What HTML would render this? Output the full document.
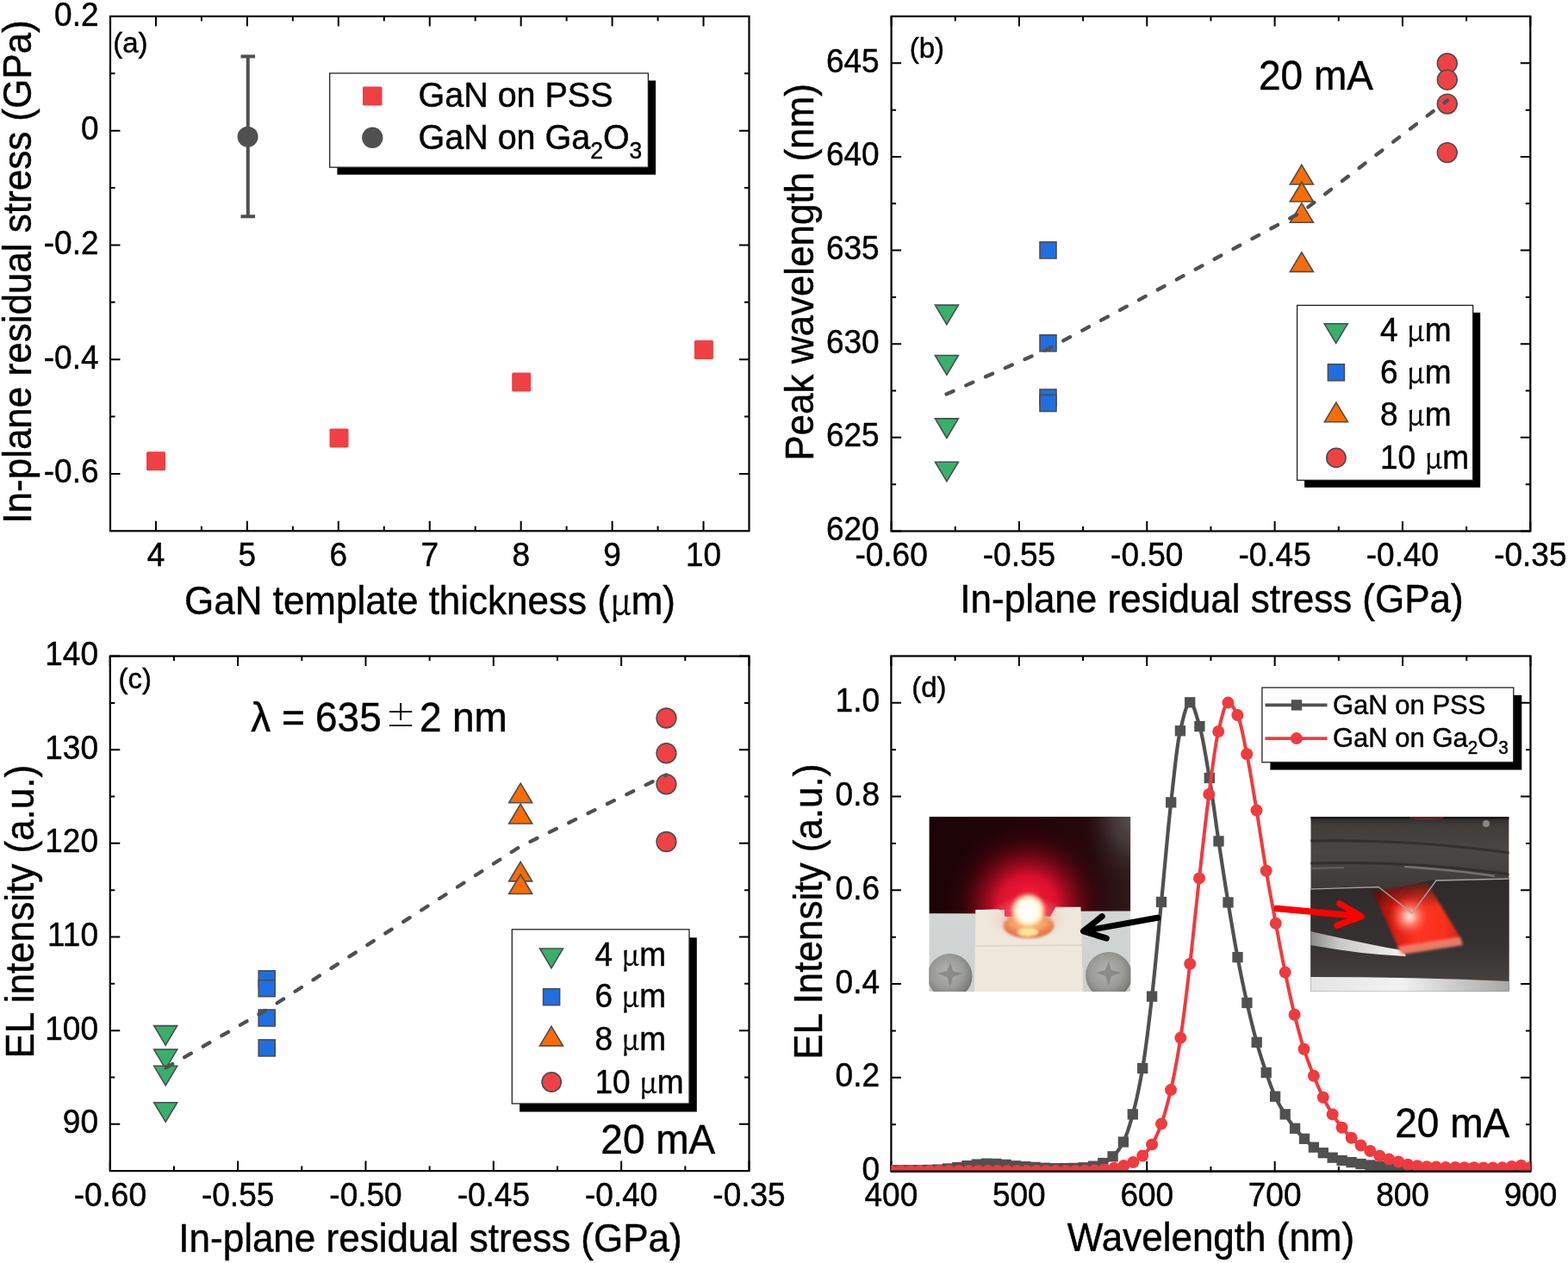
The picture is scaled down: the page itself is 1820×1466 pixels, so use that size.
<!DOCTYPE html>
<html><head><meta charset="utf-8"><title>Figure</title>
<style>
html,body{margin:0;padding:0;background:#fff;}
svg{display:block;}
svg text{font-family:'Liberation Sans', Arial, sans-serif;fill:#000;stroke:#000;stroke-width:0.45px;}
</style></head>
<body>
<svg width="1820" height="1466" viewBox="0 0 1820 1466">
<rect width="1820" height="1466" fill="#fff"/>
<path d="M180.96 616.3V604.8M180.96 19V30.5M286.89 616.3V604.8M286.89 19V30.5M392.82 616.3V604.8M392.82 19V30.5M498.75 616.3V604.8M498.75 19V30.5M604.68 616.3V604.8M604.68 19V30.5M710.61 616.3V604.8M710.61 19V30.5M816.54 616.3V604.8M816.54 19V30.5M233.93 616.3V610.8M233.93 19V24.5M339.86 616.3V610.8M339.86 19V24.5M445.79 616.3V610.8M445.79 19V24.5M551.71 616.3V610.8M551.71 19V24.5M657.64 616.3V610.8M657.64 19V24.5M763.57 616.3V610.8M763.57 19V24.5M128 19H139.5M869.5 19H858M128 151.73H139.5M869.5 151.73H858M128 284.47H139.5M869.5 284.47H858M128 417.2H139.5M869.5 417.2H858M128 549.93H139.5M869.5 549.93H858M128 85.37H133.5M869.5 85.37H864M128 218.1H133.5M869.5 218.1H864M128 350.83H133.5M869.5 350.83H864M128 483.57H133.5M869.5 483.57H864" stroke="#000" stroke-width="2.0" fill="none"/>
<rect x="128" y="19" width="741.5" height="597.3" fill="none" stroke="#000" stroke-width="2.2"/>
<text transform="translate(114.5 29.5) scale(1 1.03)" font-size="37" text-anchor="end">0.2</text>
<text transform="translate(114.5 162.23) scale(1 1.03)" font-size="37" text-anchor="end">0</text>
<text transform="translate(114.5 294.97) scale(1 1.03)" font-size="37" text-anchor="end">-0.2</text>
<text transform="translate(114.5 427.7) scale(1 1.03)" font-size="37" text-anchor="end">-0.4</text>
<text transform="translate(114.5 560.43) scale(1 1.03)" font-size="37" text-anchor="end">-0.6</text>
<text transform="translate(180.96 657.3) scale(1 1.03)" font-size="37" text-anchor="middle">4</text>
<text transform="translate(286.89 657.3) scale(1 1.03)" font-size="37" text-anchor="middle">5</text>
<text transform="translate(392.82 657.3) scale(1 1.03)" font-size="37" text-anchor="middle">6</text>
<text transform="translate(498.75 657.3) scale(1 1.03)" font-size="37" text-anchor="middle">7</text>
<text transform="translate(604.68 657.3) scale(1 1.03)" font-size="37" text-anchor="middle">8</text>
<text transform="translate(710.61 657.3) scale(1 1.03)" font-size="37" text-anchor="middle">9</text>
<text transform="translate(816.54 657.3) scale(1 1.03)" font-size="37" text-anchor="middle">10</text>
<text transform="translate(499 713) scale(1 1.03)" font-size="44" text-anchor="middle">GaN template thickness (<tspan font-family="'Noto Serif CJK SC', 'Liberation Serif', serif" font-size="0.9em">&#956;</tspan>m)</text>
<text transform="translate(36 315.5) rotate(-90) scale(1 1.03)" font-size="44" text-anchor="middle">In-plane residual stress (GPa)</text>
<text transform="translate(131.2 60.6) scale(1 1.03)" font-size="33" text-anchor="start">(a)</text>
<path d="M287.8 65.5V251.3M279.5 65.5H296.1M279.5 251.3H296.1" stroke="#505050" stroke-width="4" fill="none"/>
<circle cx="287.6" cy="158.7" r="12" fill="#505050"/>
<rect x="170" y="524.3" width="22" height="22" rx="1.6" fill="#ef4043"/>
<rect x="382.5" y="497.6" width="22" height="22" rx="1.6" fill="#ef4043"/>
<rect x="594.2" y="432.5" width="22" height="22" rx="1.6" fill="#ef4043"/>
<rect x="805.9" y="394.9" width="22" height="22" rx="1.6" fill="#ef4043"/>
<rect x="391.4" y="93.5" width="369.7" height="109.2" fill="#000"/>
<rect x="382.7" y="85" width="369.7" height="109.2" fill="#fff" stroke="#222" stroke-width="1.3"/>
<rect x="421" y="100.5" width="22.5" height="22" rx="1.6" fill="#ef4043"/>
<circle cx="432.3" cy="159.8" r="12.2" fill="#505050"/>
<text transform="translate(485.5 123.8) scale(1 1.03)" font-size="39.5" text-anchor="start">GaN on PSS</text>
<text transform="translate(485.5 172.5) scale(1 1.03)" font-size="39.5" text-anchor="start">GaN on Ga<tspan font-size="26.4" dy="10.7">2</tspan><tspan dy="-10.7">O</tspan><tspan font-size="26.4" dy="10.7">3</tspan></text>
<path d="M1034.6 616.5V605M1034.6 19V30.5M1182.94 616.5V605M1182.94 19V30.5M1331.28 616.5V605M1331.28 19V30.5M1479.62 616.5V605M1479.62 19V30.5M1627.96 616.5V605M1627.96 19V30.5M1776.3 616.5V605M1776.3 19V30.5M1108.77 616.5V611M1108.77 19V24.5M1257.11 616.5V611M1257.11 19V24.5M1405.45 616.5V611M1405.45 19V24.5M1553.79 616.5V611M1553.79 19V24.5M1702.13 616.5V611M1702.13 19V24.5M1034.6 616.5H1046.1M1776.3 616.5H1764.8M1034.6 507.86H1046.1M1776.3 507.86H1764.8M1034.6 399.23H1046.1M1776.3 399.23H1764.8M1034.6 290.59H1046.1M1776.3 290.59H1764.8M1034.6 181.95H1046.1M1776.3 181.95H1764.8M1034.6 73.32H1046.1M1776.3 73.32H1764.8M1034.6 562.18H1040.1M1776.3 562.18H1770.8M1034.6 453.55H1040.1M1776.3 453.55H1770.8M1034.6 344.91H1040.1M1776.3 344.91H1770.8M1034.6 236.27H1040.1M1776.3 236.27H1770.8M1034.6 127.64H1040.1M1776.3 127.64H1770.8" stroke="#000" stroke-width="2.0" fill="none"/>
<rect x="1034.6" y="19" width="741.7" height="597.5" fill="none" stroke="#000" stroke-width="2.2"/>
<text transform="translate(1020.6 627) scale(1 1.03)" font-size="37" text-anchor="end">620</text>
<text transform="translate(1020.6 518.36) scale(1 1.03)" font-size="37" text-anchor="end">625</text>
<text transform="translate(1020.6 409.73) scale(1 1.03)" font-size="37" text-anchor="end">630</text>
<text transform="translate(1020.6 301.09) scale(1 1.03)" font-size="37" text-anchor="end">635</text>
<text transform="translate(1020.6 192.45) scale(1 1.03)" font-size="37" text-anchor="end">640</text>
<text transform="translate(1020.6 83.82) scale(1 1.03)" font-size="37" text-anchor="end">645</text>
<text transform="translate(1034.6 657) scale(1 1.03)" font-size="37" text-anchor="middle">-0.60</text>
<text transform="translate(1182.94 657) scale(1 1.03)" font-size="37" text-anchor="middle">-0.55</text>
<text transform="translate(1331.28 657) scale(1 1.03)" font-size="37" text-anchor="middle">-0.50</text>
<text transform="translate(1479.62 657) scale(1 1.03)" font-size="37" text-anchor="middle">-0.45</text>
<text transform="translate(1627.96 657) scale(1 1.03)" font-size="37" text-anchor="middle">-0.40</text>
<text transform="translate(1776.3 657) scale(1 1.03)" font-size="37" text-anchor="middle">-0.35</text>
<text transform="translate(1406.5 710.5) scale(1 1.03)" font-size="44" text-anchor="middle">In-plane residual stress (GPa)</text>
<text transform="translate(943.7 316) rotate(-90) scale(1 1.03)" font-size="44" text-anchor="middle">Peak wavelength (nm)</text>
<text transform="translate(1055.7 66.5) scale(1 1.03)" font-size="33" text-anchor="start">(b)</text>
<text transform="translate(1461 104.3) scale(1 1.03)" font-size="46" text-anchor="start">20 mA</text>
<path d="M1085.4 354.1L1112.4 354.1L1098.9 376.7Z" fill="#38b06b" stroke="#4b4d4e" stroke-width="1.6" stroke-linejoin="miter"/>
<path d="M1085.4 412.5L1112.4 412.5L1098.9 435.1Z" fill="#38b06b" stroke="#4b4d4e" stroke-width="1.6" stroke-linejoin="miter"/>
<path d="M1085.4 485.9L1112.4 485.9L1098.9 508.5Z" fill="#38b06b" stroke="#4b4d4e" stroke-width="1.6" stroke-linejoin="miter"/>
<path d="M1085.4 536.2L1112.4 536.2L1098.9 558.8Z" fill="#38b06b" stroke="#4b4d4e" stroke-width="1.6" stroke-linejoin="miter"/>
<rect x="1207" y="280.9" width="19" height="19" fill="#1f6fe2" stroke="#4b4d4e" stroke-width="1.6"/>
<rect x="1207" y="388.8" width="19" height="19" fill="#1f6fe2" stroke="#4b4d4e" stroke-width="1.6"/>
<rect x="1207" y="452" width="19" height="19" fill="#1f6fe2" stroke="#4b4d4e" stroke-width="1.6"/>
<rect x="1207" y="458.5" width="19" height="19" fill="#1f6fe2" stroke="#4b4d4e" stroke-width="1.6"/>
<path d="M1510.9 191.4L1524.4 214L1497.4 214Z" fill="#fb6c00" stroke="#4b4d4e" stroke-width="1.6" stroke-linejoin="miter"/>
<path d="M1510.9 211.4L1524.4 234L1497.4 234Z" fill="#fb6c00" stroke="#4b4d4e" stroke-width="1.6" stroke-linejoin="miter"/>
<path d="M1510.9 235.7L1524.4 258.3L1497.4 258.3Z" fill="#fb6c00" stroke="#4b4d4e" stroke-width="1.6" stroke-linejoin="miter"/>
<path d="M1510.9 292.8L1524.4 315.4L1497.4 315.4Z" fill="#fb6c00" stroke="#4b4d4e" stroke-width="1.6" stroke-linejoin="miter"/>
<circle cx="1679.8" cy="73.5" r="11.4" fill="#f04244" stroke="#4b4d4e" stroke-width="1.6"/>
<circle cx="1679.8" cy="92.7" r="11.4" fill="#f04244" stroke="#4b4d4e" stroke-width="1.6"/>
<circle cx="1679.8" cy="120.6" r="11.4" fill="#f04244" stroke="#4b4d4e" stroke-width="1.6"/>
<circle cx="1679.8" cy="177.1" r="11.4" fill="#f04244" stroke="#4b4d4e" stroke-width="1.6"/>
<path d="M1098.5 457.5 L1216.5 405 L1511 246 L1680 116.5" fill="none" stroke="#505050" stroke-width="4.3" stroke-dasharray="8.8 16.1" stroke-linecap="round" stroke-linejoin="round"/>
<rect x="1514.1" y="362.8" width="204.1" height="203" fill="#000"/>
<rect x="1505.6" y="354.4" width="204.1" height="203" fill="#fff" stroke="#222" stroke-width="1.3"/>
<path d="M1537.2 375.8L1564.2 375.8L1550.7 398.4Z" fill="#38b06b" stroke="#4b4d4e" stroke-width="1.6" stroke-linejoin="miter"/>
<rect x="1541.4" y="422.8" width="19" height="19" fill="#1f6fe2" stroke="#4b4d4e" stroke-width="1.6"/>
<path d="M1550.9 467.1L1564.4 489.7L1537.4 489.7Z" fill="#fb6c00" stroke="#4b4d4e" stroke-width="1.6" stroke-linejoin="miter"/>
<circle cx="1550.9" cy="531.4" r="11.1" fill="#f04244" stroke="#4b4d4e" stroke-width="1.6"/>
<text transform="translate(1602 395.7) scale(1 1.03)" font-size="37" text-anchor="start">4 <tspan font-family="'Noto Serif CJK SC', 'Liberation Serif', serif" font-size="0.9em">&#956;</tspan>m</text>
<text transform="translate(1602 444.5) scale(1 1.03)" font-size="37" text-anchor="start">6 <tspan font-family="'Noto Serif CJK SC', 'Liberation Serif', serif" font-size="0.9em">&#956;</tspan>m</text>
<text transform="translate(1602 494) scale(1 1.03)" font-size="37" text-anchor="start">8 <tspan font-family="'Noto Serif CJK SC', 'Liberation Serif', serif" font-size="0.9em">&#956;</tspan>m</text>
<text transform="translate(1602 543.8) scale(1 1.03)" font-size="37" text-anchor="start">10 <tspan font-family="'Noto Serif CJK SC', 'Liberation Serif', serif" font-size="0.9em">&#956;</tspan>m</text>
<path d="M127.8 1359.1V1347.6M127.8 761.6V773.1M276.14 1359.1V1347.6M276.14 761.6V773.1M424.48 1359.1V1347.6M424.48 761.6V773.1M572.82 1359.1V1347.6M572.82 761.6V773.1M721.16 1359.1V1347.6M721.16 761.6V773.1M869.5 1359.1V1347.6M869.5 761.6V773.1M201.97 1359.1V1353.6M201.97 761.6V767.1M350.31 1359.1V1353.6M350.31 761.6V767.1M498.65 1359.1V1353.6M498.65 761.6V767.1M646.99 1359.1V1353.6M646.99 761.6V767.1M795.33 1359.1V1353.6M795.33 761.6V767.1M127.8 1304.78H139.3M869.5 1304.78H858M127.8 1196.15H139.3M869.5 1196.15H858M127.8 1087.51H139.3M869.5 1087.51H858M127.8 978.87H139.3M869.5 978.87H858M127.8 870.24H139.3M869.5 870.24H858M127.8 761.6H139.3M869.5 761.6H858M127.8 1250.46H133.3M869.5 1250.46H864M127.8 1141.83H133.3M869.5 1141.83H864M127.8 1033.19H133.3M869.5 1033.19H864M127.8 924.55H133.3M869.5 924.55H864M127.8 815.92H133.3M869.5 815.92H864" stroke="#000" stroke-width="2.0" fill="none"/>
<rect x="127.8" y="761.6" width="741.7" height="597.5" fill="none" stroke="#000" stroke-width="2.2"/>
<text transform="translate(114 1315.28) scale(1 1.03)" font-size="37" text-anchor="end">90</text>
<text transform="translate(114 1206.65) scale(1 1.03)" font-size="37" text-anchor="end">100</text>
<text transform="translate(114 1098.01) scale(1 1.03)" font-size="37" text-anchor="end">110</text>
<text transform="translate(114 989.37) scale(1 1.03)" font-size="37" text-anchor="end">120</text>
<text transform="translate(114 880.74) scale(1 1.03)" font-size="37" text-anchor="end">130</text>
<text transform="translate(114 772.1) scale(1 1.03)" font-size="37" text-anchor="end">140</text>
<text transform="translate(127.8 1400) scale(1 1.03)" font-size="37" text-anchor="middle">-0.60</text>
<text transform="translate(276.14 1400) scale(1 1.03)" font-size="37" text-anchor="middle">-0.55</text>
<text transform="translate(424.48 1400) scale(1 1.03)" font-size="37" text-anchor="middle">-0.50</text>
<text transform="translate(572.82 1400) scale(1 1.03)" font-size="37" text-anchor="middle">-0.45</text>
<text transform="translate(721.16 1400) scale(1 1.03)" font-size="37" text-anchor="middle">-0.40</text>
<text transform="translate(869.5 1400) scale(1 1.03)" font-size="37" text-anchor="middle">-0.35</text>
<text transform="translate(499.5 1453.4) scale(1 1.03)" font-size="44" text-anchor="middle">In-plane residual stress (GPa)</text>
<text transform="translate(39 1058.2) rotate(-90) scale(1 1.03)" font-size="44" text-anchor="middle">EL intensity (a.u.)</text>
<text transform="translate(137.5 798.8) scale(1 1.03)" font-size="33" text-anchor="start">(c)</text>
<text transform="translate(697.3 1339.3) scale(1 1.03)" font-size="46" text-anchor="start">20 mA</text>
<text transform="translate(291.3 849.3) scale(1 1.03)" font-size="46" text-anchor="start">&#955;</text>
<text transform="translate(327 849.3) scale(1 1.03)" font-size="46" text-anchor="start">=</text>
<text transform="translate(366 849.3) scale(1 1.03)" font-size="46" text-anchor="start">635</text>
<text transform="translate(447.5 843) scale(1 1.0)" font-size="42" text-anchor="start" style="font-family:'DejaVu Sans';font-weight:200;stroke-width:0">&#177;</text>
<text transform="translate(487 849.3) scale(1 1.03)" font-size="46" text-anchor="start">2</text>
<text transform="translate(525 849.3) scale(1 1.03)" font-size="46" text-anchor="start">nm</text>
<path d="M178.7 1190.6L205.7 1190.6L192.2 1213.2Z" fill="#38b06b" stroke="#4b4d4e" stroke-width="1.6" stroke-linejoin="miter"/>
<path d="M178.7 1218.1L205.7 1218.1L192.2 1240.7Z" fill="#38b06b" stroke="#4b4d4e" stroke-width="1.6" stroke-linejoin="miter"/>
<path d="M178.7 1237.3L205.7 1237.3L192.2 1259.9Z" fill="#38b06b" stroke="#4b4d4e" stroke-width="1.6" stroke-linejoin="miter"/>
<path d="M178.7 1279.7L205.7 1279.7L192.2 1302.3Z" fill="#38b06b" stroke="#4b4d4e" stroke-width="1.6" stroke-linejoin="miter"/>
<rect x="300.2" y="1126.8" width="19" height="19" fill="#1f6fe2" stroke="#4b4d4e" stroke-width="1.6"/>
<rect x="300.2" y="1137.7" width="19" height="19" fill="#1f6fe2" stroke="#4b4d4e" stroke-width="1.6"/>
<rect x="300.2" y="1172" width="19" height="19" fill="#1f6fe2" stroke="#4b4d4e" stroke-width="1.6"/>
<rect x="300.2" y="1206.9" width="19" height="19" fill="#1f6fe2" stroke="#4b4d4e" stroke-width="1.6"/>
<path d="M604.2 909.2L617.7 931.8L590.7 931.8Z" fill="#fb6c00" stroke="#4b4d4e" stroke-width="1.6" stroke-linejoin="miter"/>
<path d="M604.2 933.4L617.7 956L590.7 956Z" fill="#fb6c00" stroke="#4b4d4e" stroke-width="1.6" stroke-linejoin="miter"/>
<path d="M604.2 1000.3L617.7 1022.9L590.7 1022.9Z" fill="#fb6c00" stroke="#4b4d4e" stroke-width="1.6" stroke-linejoin="miter"/>
<path d="M604.2 1014.9L617.7 1037.5L590.7 1037.5Z" fill="#fb6c00" stroke="#4b4d4e" stroke-width="1.6" stroke-linejoin="miter"/>
<circle cx="773.4" cy="833.5" r="11.4" fill="#f04244" stroke="#4b4d4e" stroke-width="1.6"/>
<circle cx="773.4" cy="874.3" r="11.4" fill="#f04244" stroke="#4b4d4e" stroke-width="1.6"/>
<circle cx="773.4" cy="910.3" r="11.4" fill="#f04244" stroke="#4b4d4e" stroke-width="1.6"/>
<circle cx="773.4" cy="977" r="11.4" fill="#f04244" stroke="#4b4d4e" stroke-width="1.6"/>
<path d="M192.6 1239.5 L309.7 1172 L604 982.5 L773.4 899.5" fill="none" stroke="#505050" stroke-width="4.3" stroke-dasharray="8.8 16.1" stroke-linecap="round" stroke-linejoin="round"/>
<rect x="603.1" y="1088.3" width="205.7" height="202.2" fill="#000"/>
<rect x="594.3" y="1078.8" width="205.7" height="202.2" fill="#fff" stroke="#222" stroke-width="1.3"/>
<path d="M626.5 1101L653.5 1101L640 1123.6Z" fill="#38b06b" stroke="#4b4d4e" stroke-width="1.6" stroke-linejoin="miter"/>
<rect x="630.6" y="1147.7" width="19" height="19" fill="#1f6fe2" stroke="#4b4d4e" stroke-width="1.6"/>
<path d="M640 1191.3L653.5 1213.9L626.5 1213.9Z" fill="#fb6c00" stroke="#4b4d4e" stroke-width="1.6" stroke-linejoin="miter"/>
<circle cx="640.2" cy="1256" r="11.1" fill="#f04244" stroke="#4b4d4e" stroke-width="1.6"/>
<text transform="translate(690.5 1121) scale(1 1.03)" font-size="37" text-anchor="start">4 <tspan font-family="'Noto Serif CJK SC', 'Liberation Serif', serif" font-size="0.9em">&#956;</tspan>m</text>
<text transform="translate(690.5 1168.8) scale(1 1.03)" font-size="37" text-anchor="start">6 <tspan font-family="'Noto Serif CJK SC', 'Liberation Serif', serif" font-size="0.9em">&#956;</tspan>m</text>
<text transform="translate(690.5 1218.6) scale(1 1.03)" font-size="37" text-anchor="start">8 <tspan font-family="'Noto Serif CJK SC', 'Liberation Serif', serif" font-size="0.9em">&#956;</tspan>m</text>
<text transform="translate(690.5 1268.7) scale(1 1.03)" font-size="37" text-anchor="start">10 <tspan font-family="'Noto Serif CJK SC', 'Liberation Serif', serif" font-size="0.9em">&#956;</tspan>m</text>
<path d="M1034.4 1359.6V1348.1M1034.4 761.5V773M1182.82 1359.6V1348.1M1182.82 761.5V773M1331.24 1359.6V1348.1M1331.24 761.5V773M1479.66 1359.6V1348.1M1479.66 761.5V773M1628.08 1359.6V1348.1M1628.08 761.5V773M1776.5 1359.6V1348.1M1776.5 761.5V773M1108.61 1359.6V1354.1M1108.61 761.5V767M1257.03 1359.6V1354.1M1257.03 761.5V767M1405.45 1359.6V1354.1M1405.45 761.5V767M1553.87 1359.6V1354.1M1553.87 761.5V767M1702.29 1359.6V1354.1M1702.29 761.5V767M1034.4 1359.6H1045.9M1776.5 1359.6H1765M1034.4 1250.85H1045.9M1776.5 1250.85H1765M1034.4 1142.11H1045.9M1776.5 1142.11H1765M1034.4 1033.36H1045.9M1776.5 1033.36H1765M1034.4 924.62H1045.9M1776.5 924.62H1765M1034.4 815.87H1045.9M1776.5 815.87H1765M1034.4 1305.23H1039.9M1776.5 1305.23H1771M1034.4 1196.48H1039.9M1776.5 1196.48H1771M1034.4 1087.74H1039.9M1776.5 1087.74H1771M1034.4 978.99H1039.9M1776.5 978.99H1771M1034.4 870.25H1039.9M1776.5 870.25H1771" stroke="#000" stroke-width="2.0" fill="none"/>
<rect x="1034.4" y="761.5" width="742.1" height="598.1" fill="none" stroke="#000" stroke-width="2.2"/>
<text transform="translate(1021 1370.1) scale(1 1.03)" font-size="37" text-anchor="end">0</text>
<text transform="translate(1021 1261.35) scale(1 1.03)" font-size="37" text-anchor="end">0.2</text>
<text transform="translate(1021 1152.61) scale(1 1.03)" font-size="37" text-anchor="end">0.4</text>
<text transform="translate(1021 1043.86) scale(1 1.03)" font-size="37" text-anchor="end">0.6</text>
<text transform="translate(1021 935.12) scale(1 1.03)" font-size="37" text-anchor="end">0.8</text>
<text transform="translate(1021 826.37) scale(1 1.03)" font-size="37" text-anchor="end">1.0</text>
<text transform="translate(1034.4 1399.5) scale(1 1.03)" font-size="37" text-anchor="middle">400</text>
<text transform="translate(1182.82 1399.5) scale(1 1.03)" font-size="37" text-anchor="middle">500</text>
<text transform="translate(1331.24 1399.5) scale(1 1.03)" font-size="37" text-anchor="middle">600</text>
<text transform="translate(1479.66 1399.5) scale(1 1.03)" font-size="37" text-anchor="middle">700</text>
<text transform="translate(1628.08 1399.5) scale(1 1.03)" font-size="37" text-anchor="middle">800</text>
<text transform="translate(1776.5 1399.5) scale(1 1.03)" font-size="37" text-anchor="middle">900</text>
<text transform="translate(1405.5 1452) scale(1 1.03)" font-size="44" text-anchor="middle">Wavelength (nm)</text>
<text transform="translate(953.9 1058.2) rotate(-90) scale(1 1.03)" font-size="44" text-anchor="middle">EL Intensity (a.u.)</text>
<text transform="translate(1058.2 808.8) scale(1 1.03)" font-size="33" text-anchor="start">(d)</text>
<text transform="translate(1619.2 1319.6) scale(1 1.03)" font-size="46" text-anchor="start">20 mA</text>
<defs>
<clipPath id="ph1c"><rect x="1078.3" y="947.8" width="234.1" height="203.2"/></clipPath>
<clipPath id="ph1top"><path d="M1078.3 947.8H1312.4V1057.5H1254.4V1053H1225V1064H1166V1056H1132.4V1060.2H1078.3Z"/></clipPath>
<clipPath id="ph2c"><rect x="1521.3" y="948" width="230.3" height="202.7"/></clipPath>
<linearGradient id="p1top" x1="0" y1="0" x2="1" y2="0">
<stop offset="0" stop-color="#1b0406"/><stop offset="0.5" stop-color="#230308"/><stop offset="0.8" stop-color="#26080b"/><stop offset="1" stop-color="#2e1a1b"/>
</linearGradient>
<radialGradient id="p1tr" cx="1316" cy="946" r="75" gradientUnits="userSpaceOnUse" gradientTransform="translate(1316 946) scale(0.8 1.2) translate(-1316 -946)">
<stop offset="0" stop-color="#5c5454" stop-opacity="1"/><stop offset="0.4" stop-color="#4a4040" stop-opacity="0.8"/><stop offset="1" stop-color="#2a1416" stop-opacity="0"/>
</radialGradient>
<linearGradient id="p1bot" x1="0" y1="0" x2="0" y2="1">
<stop offset="0" stop-color="#d8dcdc"/><stop offset="1" stop-color="#ccd0cf"/>
</linearGradient>
<radialGradient id="p1glow" cx="1193" cy="1052" r="100" gradientUnits="userSpaceOnUse">
<stop offset="0" stop-color="#ff2040" stop-opacity="1"/><stop offset="0.35" stop-color="#e41030" stop-opacity="0.95"/><stop offset="0.55" stop-color="#a00a1e" stop-opacity="0.7"/><stop offset="0.8" stop-color="#50040e" stop-opacity="0.3"/><stop offset="1" stop-color="#300008" stop-opacity="0"/>
</radialGradient>
<radialGradient id="p1core" cx="1193.5" cy="1057" r="22" gradientUnits="userSpaceOnUse">
<stop offset="0" stop-color="#ffffff"/><stop offset="0.55" stop-color="#fffdf0"/><stop offset="0.75" stop-color="#ffe8b0" stop-opacity="0.9"/><stop offset="1" stop-color="#ff8060" stop-opacity="0"/>
</radialGradient>
<radialGradient id="p1dome" cx="0.5" cy="0.35" r="0.6">
<stop offset="0" stop-color="#ffd890"/><stop offset="0.6" stop-color="#f59a60"/><stop offset="1" stop-color="#e26848"/>
</radialGradient>
<filter id="blur2" x="-20%" y="-20%" width="140%" height="140%"><feGaussianBlur stdDeviation="1.8"/></filter>
<radialGradient id="p1spill" cx="0.5" cy="0.5" r="0.5">
<stop offset="0" stop-color="#f06070" stop-opacity="0.55"/><stop offset="0.6" stop-color="#f6a0a0" stop-opacity="0.3"/><stop offset="1" stop-color="#f8c8b8" stop-opacity="0"/>
</radialGradient>
<radialGradient id="screw" cx="0.45" cy="0.42" r="0.6">
<stop offset="0" stop-color="#b4b5b1"/><stop offset="0.6" stop-color="#9a9b97"/><stop offset="0.9" stop-color="#7e7f7b"/><stop offset="1" stop-color="#6a6b68"/>
</radialGradient>
<linearGradient id="p2bg" x1="0" y1="0" x2="0" y2="1">
<stop offset="0" stop-color="#2c2828"/><stop offset="0.05" stop-color="#403c3a"/><stop offset="0.2" stop-color="#4a4644"/><stop offset="0.35" stop-color="#423e3c"/><stop offset="0.5" stop-color="#3a3634"/><stop offset="1" stop-color="#3a3634"/>
</linearGradient>
<linearGradient id="p2chip" x1="0" y1="0" x2="1" y2="0">
<stop offset="0" stop-color="#7a0a08"/><stop offset="0.25" stop-color="#d81c12"/><stop offset="0.5" stop-color="#ff3422"/><stop offset="0.8" stop-color="#f8301e"/><stop offset="1" stop-color="#d02a1c"/>
</linearGradient>
<linearGradient id="p2chipv" x1="0" y1="0" x2="0" y2="1">
<stop offset="0" stop-color="#2a1212" stop-opacity="0.75"/><stop offset="0.35" stop-color="#2a1212" stop-opacity="0"/><stop offset="1" stop-color="#2a1212" stop-opacity="0"/>
</linearGradient>
<radialGradient id="p2hot" cx="1636" cy="1064" r="24" gradientUnits="userSpaceOnUse">
<stop offset="0" stop-color="#fff4f0"/><stop offset="0.3" stop-color="#ff9a88"/><stop offset="1" stop-color="#ff3020" stop-opacity="0"/>
</radialGradient>
<linearGradient id="p2silver" x1="0" y1="0" x2="1" y2="0">
<stop offset="0" stop-color="#8a8a88"/><stop offset="0.3" stop-color="#c8c8c6"/><stop offset="0.7" stop-color="#e2e2e0"/><stop offset="1" stop-color="#f4f4f2"/>
</linearGradient>
<linearGradient id="p2white" x1="0" y1="0" x2="1" y2="0">
<stop offset="0" stop-color="#e4e4e4"/><stop offset="0.45" stop-color="#f2f2f2"/><stop offset="0.75" stop-color="#c8c8c8"/><stop offset="1" stop-color="#a8a8a8"/>
</linearGradient>
<linearGradient id="p2low" x1="0" y1="0" x2="0" y2="1">
<stop offset="0" stop-color="#2e2a29"/><stop offset="0.6" stop-color="#363231"/><stop offset="1" stop-color="#4a4644"/>
</linearGradient>
</defs>
<g clip-path="url(#ph1c)">
<rect x="1078.3" y="947.8" width="234.1" height="203.2" fill="url(#p1bot)"/>
<g clip-path="url(#ph1top)">
<rect x="1078.3" y="947.8" width="234.1" height="114" fill="url(#p1top)"/>
<rect x="1078.3" y="947.8" width="234.1" height="114" fill="url(#p1tr)"/>
<ellipse cx="1193" cy="1052" rx="100" ry="100" fill="url(#p1glow)"/>
</g>
<path d="M1131 1151 L1132.4 1056 L1159.4 1055.4 L1166 1064 L1219 1064 L1225.3 1052.8 L1254.4 1052.8 L1257 1151 Z" fill="#eee8dc"/>
<path d="M1131 1098 L1257 1097" stroke="#d9d5c8" stroke-width="1.5"/>
<path d="M1133 1057 L1159 1056.4 L1165 1064" stroke="#f6f3ea" stroke-width="1.5" fill="none"/>
<ellipse cx="1193" cy="1066" rx="48" ry="26" fill="url(#p1spill)"/>
<g filter="url(#blur2)">
<ellipse cx="1194" cy="1074.5" rx="29.5" ry="14.5" fill="url(#p1dome)"/>
<ellipse cx="1193" cy="1082" rx="12" ry="5" fill="#fff0a0" opacity="0.9"/>
<circle cx="1193.5" cy="1057" r="22" fill="url(#p1core)"/>
</g>
<circle cx="1102.5" cy="1133" r="26" fill="url(#screw)"/>
<circle cx="1287" cy="1132" r="27" fill="url(#screw)"/>
<path d="M1103 1117 L1106 1127 L1117 1130 L1106 1134 L1103 1145 L1099 1134 L1088 1130 L1099 1127 Z" fill="#7c7d79" opacity="0.7"/>
<path d="M1287 1116 L1290 1126 L1301 1129 L1290 1133 L1287 1144 L1283 1133 L1272 1129 L1283 1126 Z" fill="#7c7d79" opacity="0.7"/>
</g>
<g clip-path="url(#ph2c)">
<rect x="1521.3" y="948" width="230.3" height="202.7" fill="url(#p2bg)"/>
<rect x="1521.3" y="948" width="230.3" height="3" fill="#201c1c"/>
<ellipse cx="1656" cy="949" rx="20" ry="3" fill="#8a2a2a" opacity="0.6"/>
<circle cx="1725" cy="956" r="4" fill="#8a8684"/>
<path d="M1521 976 Q1640 974 1752 990" stroke="#2e2a29" stroke-width="3" fill="none" opacity="0.8"/>
<path d="M1521 1002 Q1640 999 1752 1015" stroke="#2e2a29" stroke-width="3" fill="none" opacity="0.8"/>
<path d="M1630 1006 Q1690 1010 1735 1017" stroke="#8a8684" stroke-width="2.5" fill="none" opacity="0.7"/>
<path d="M1521 1008 L1560 1007" stroke="#7a7674" stroke-width="2" opacity="0.6"/>
<path d="M1521 1031 L1600 1028 L1608 1034 L1660 1022 L1752 1019 L1752 1151 L1521 1151 Z" fill="url(#p2low)"/>
<path d="M1521 1081 Q1570 1092 1610 1100 L1628 1103 L1632 1110 Q1580 1108 1521 1097 Z" fill="url(#p2silver)"/>
<g filter="url(#blur2)">
<path d="M1593 1034 L1657 1026 L1696 1090 L1625 1104 Z" fill="url(#p2chip)"/>
<path d="M1593 1034 L1657 1026 L1696 1090 L1625 1104 Z" fill="url(#p2chipv)"/>
<path d="M1622 1099 L1695 1088 L1698 1097 L1627 1108 Z" fill="#f07e68" opacity="0.95"/>
<circle cx="1636" cy="1064" r="24" fill="url(#p2hot)"/>
</g>
<path d="M1521 1032 L1600 1029.5 L1639 1060 L1667 1022 L1752 1020" stroke="#aaa4a0" stroke-width="1.3" fill="none"/>
<path d="M1521 1134 Q1640 1134 1752 1139 L1752 1151 L1521 1151 Z" fill="url(#p2white)"/>
</g>

<defs><clipPath id="clipd"><rect x="1034.4" y="761.5" width="742.1" height="598.1"/></clipPath></defs>
<g clip-path="url(#clipd)">
<path d="M1034.4 1358.3 L1035.4 1358.3 L1036.4 1358.3 L1037.4 1358.3 L1038.4 1358.3 L1039.4 1358.29 L1040.4 1358.29 L1041.4 1358.29 L1042.4 1358.29 L1043.4 1358.28 L1044.4 1358.28 L1045.4 1358.28 L1046.4 1358.27 L1047.4 1358.27 L1048.4 1358.26 L1049.4 1358.26 L1050.4 1358.25 L1051.4 1358.25 L1052.4 1358.24 L1053.4 1358.24 L1054.4 1358.23 L1055.4 1358.23 L1056.4 1358.22 L1057.4 1358.22 L1058.4 1358.21 L1059.4 1358.2 L1060.4 1358.2 L1061.4 1358.19 L1062.4 1358.18 L1063.4 1358.18 L1064.4 1358.17 L1065.4 1358.16 L1066.4 1358.15 L1067.4 1358.14 L1068.4 1358.13 L1069.4 1358.11 L1070.4 1358.1 L1071.4 1358.09 L1072.4 1358.07 L1073.4 1358.06 L1074.4 1358.04 L1075.4 1358.02 L1076.4 1358 L1077.4 1357.98 L1078.4 1357.96 L1079.4 1357.94 L1080.4 1357.92 L1081.4 1357.9 L1082.4 1357.87 L1083.4 1357.84 L1084.4 1357.82 L1085.4 1357.79 L1086.4 1357.75 L1087.4 1357.7 L1088.4 1357.63 L1089.4 1357.56 L1090.4 1357.48 L1091.4 1357.4 L1092.4 1357.3 L1093.4 1357.2 L1094.4 1357.1 L1095.4 1357 L1096.4 1356.89 L1097.4 1356.78 L1098.4 1356.67 L1099.4 1356.56 L1100.4 1356.46 L1101.4 1356.35 L1102.4 1356.23 L1103.4 1356.11 L1104.4 1355.99 L1105.4 1355.86 L1106.4 1355.73 L1107.4 1355.59 L1108.4 1355.46 L1109.4 1355.32 L1110.4 1355.17 L1111.4 1355.03 L1112.4 1354.88 L1113.4 1354.74 L1114.4 1354.59 L1115.4 1354.44 L1116.4 1354.28 L1117.4 1354.11 L1118.4 1353.94 L1119.4 1353.75 L1120.4 1353.57 L1121.4 1353.38 L1122.4 1353.19 L1123.4 1353.01 L1124.4 1352.83 L1125.4 1352.65 L1126.4 1352.49 L1127.4 1352.33 L1128.4 1352.19 L1129.4 1352.07 L1130.4 1351.96 L1131.4 1351.85 L1132.4 1351.74 L1133.4 1351.63 L1134.4 1351.52 L1135.4 1351.41 L1136.4 1351.31 L1137.4 1351.21 L1138.4 1351.11 L1139.4 1351.02 L1140.4 1350.94 L1141.4 1350.86 L1142.4 1350.79 L1143.4 1350.73 L1144.4 1350.68 L1145.4 1350.64 L1146.4 1350.62 L1147.4 1350.6 L1148.4 1350.6 L1149.4 1350.61 L1150.4 1350.63 L1151.4 1350.66 L1152.4 1350.7 L1153.4 1350.75 L1154.4 1350.8 L1155.4 1350.86 L1156.4 1350.92 L1157.4 1350.99 L1158.4 1351.07 L1159.4 1351.15 L1160.4 1351.23 L1161.4 1351.31 L1162.4 1351.39 L1163.4 1351.47 L1164.4 1351.55 L1165.4 1351.63 L1166.4 1351.73 L1167.4 1351.83 L1168.4 1351.94 L1169.4 1352.07 L1170.4 1352.2 L1171.4 1352.33 L1172.4 1352.47 L1173.4 1352.61 L1174.4 1352.74 L1175.4 1352.88 L1176.4 1353 L1177.4 1353.13 L1178.4 1353.24 L1179.4 1353.34 L1180.4 1353.44 L1181.4 1353.52 L1182.4 1353.61 L1183.4 1353.69 L1184.4 1353.77 L1185.4 1353.84 L1186.4 1353.92 L1187.4 1353.99 L1188.4 1354.06 L1189.4 1354.13 L1190.4 1354.19 L1191.4 1354.26 L1192.4 1354.32 L1193.4 1354.39 L1194.4 1354.45 L1195.4 1354.51 L1196.4 1354.58 L1197.4 1354.64 L1198.4 1354.7 L1199.4 1354.76 L1200.4 1354.83 L1201.4 1354.89 L1202.4 1354.96 L1203.4 1355.03 L1204.4 1355.1 L1205.4 1355.18 L1206.4 1355.25 L1207.4 1355.32 L1208.4 1355.4 L1209.4 1355.47 L1210.4 1355.55 L1211.4 1355.62 L1212.4 1355.69 L1213.4 1355.76 L1214.4 1355.82 L1215.4 1355.88 L1216.4 1355.94 L1217.4 1355.99 L1218.4 1356.04 L1219.4 1356.08 L1220.4 1356.12 L1221.4 1356.15 L1222.4 1356.17 L1223.4 1356.19 L1224.4 1356.2 L1225.4 1356.2 L1226.4 1356.2 L1227.4 1356.2 L1228.4 1356.19 L1229.4 1356.19 L1230.4 1356.18 L1231.4 1356.17 L1232.4 1356.16 L1233.4 1356.15 L1234.4 1356.14 L1235.4 1356.12 L1236.4 1356.11 L1237.4 1356.09 L1238.4 1356.08 L1239.4 1356.06 L1240.4 1356.04 L1241.4 1356.02 L1242.4 1356 L1243.4 1355.97 L1244.4 1355.95 L1245.4 1355.92 L1246.4 1355.9 L1247.4 1355.87 L1248.4 1355.85 L1249.4 1355.82 L1250.4 1355.79 L1251.4 1355.75 L1252.4 1355.7 L1253.4 1355.63 L1254.4 1355.56 L1255.4 1355.48 L1256.4 1355.39 L1257.4 1355.3 L1258.4 1355.2 L1259.4 1355.09 L1260.4 1354.98 L1261.4 1354.87 L1262.4 1354.75 L1263.4 1354.63 L1264.4 1354.49 L1265.4 1354.33 L1266.4 1354.17 L1267.4 1353.99 L1268.4 1353.79 L1269.4 1353.59 L1270.4 1353.37 L1271.4 1353.14 L1272.4 1352.9 L1273.4 1352.63 L1274.4 1352.34 L1275.4 1352.02 L1276.4 1351.67 L1277.4 1351.29 L1278.4 1350.89 L1279.4 1350.47 L1280.4 1350.02 L1281.4 1349.55 L1282.4 1349.04 L1283.4 1348.5 L1284.4 1347.9 L1285.4 1347.26 L1286.4 1346.58 L1287.4 1345.85 L1288.4 1345.08 L1289.4 1344.27 L1290.4 1343.42 L1291.4 1342.53 L1292.4 1341.6 L1293.4 1340.61 L1294.4 1339.56 L1295.4 1338.43 L1296.4 1337.22 L1297.4 1335.94 L1298.4 1334.57 L1299.4 1333.13 L1300.4 1331.59 L1301.4 1329.97 L1302.4 1328.25 L1303.4 1326.44 L1304.4 1324.51 L1305.4 1322.36 L1306.4 1319.97 L1307.4 1317.38 L1308.4 1314.59 L1309.4 1311.62 L1310.4 1308.5 L1311.4 1305.24 L1312.4 1301.87 L1313.4 1298.39 L1314.4 1294.84 L1315.4 1291.2 L1316.4 1287.39 L1317.4 1283.41 L1318.4 1279.23 L1319.4 1274.87 L1320.4 1270.32 L1321.4 1265.57 L1322.4 1260.63 L1323.4 1255.49 L1324.4 1250.14 L1325.4 1244.59 L1326.4 1238.83 L1327.4 1232.68 L1328.4 1226.1 L1329.4 1219.13 L1330.4 1211.8 L1331.4 1204.16 L1332.4 1196.25 L1333.4 1188.11 L1334.4 1179.77 L1335.4 1171.27 L1336.4 1162.67 L1337.4 1153.97 L1338.4 1144.92 L1339.4 1135.48 L1340.4 1125.7 L1341.4 1115.65 L1342.4 1105.39 L1343.4 1094.99 L1344.4 1084.5 L1345.4 1073.98 L1346.4 1063.51 L1347.4 1053.15 L1348.4 1042.9 L1349.4 1032.47 L1350.4 1021.84 L1351.4 1011.08 L1352.4 1000.27 L1353.4 989.48 L1354.4 978.8 L1355.4 968.3 L1356.4 958.06 L1357.4 948.15 L1358.4 938.65 L1359.4 929.62 L1360.4 920.63 L1361.4 911.54 L1362.4 902.49 L1363.4 893.59 L1364.4 884.97 L1365.4 876.76 L1366.4 869.09 L1367.4 862.08 L1368.4 855.87 L1369.4 850.57 L1370.4 846.17 L1371.4 841.9 L1372.4 837.71 L1373.4 833.66 L1374.4 829.82 L1375.4 826.28 L1376.4 823.11 L1377.4 820.37 L1378.4 818.15 L1379.4 816.52 L1380.4 815.55 L1381.4 815.31 L1382.4 815.8 L1383.4 816.93 L1384.4 818.61 L1385.4 820.78 L1386.4 823.36 L1387.4 826.26 L1388.4 829.43 L1389.4 832.77 L1390.4 836.21 L1391.4 839.68 L1392.4 843.1 L1393.4 846.73 L1394.4 850.84 L1395.4 855.38 L1396.4 860.3 L1397.4 865.53 L1398.4 871.03 L1399.4 876.74 L1400.4 882.61 L1401.4 888.58 L1402.4 894.6 L1403.4 900.61 L1404.4 906.64 L1405.4 912.97 L1406.4 919.59 L1407.4 926.43 L1408.4 933.44 L1409.4 940.55 L1410.4 947.72 L1411.4 954.88 L1412.4 961.97 L1413.4 968.94 L1414.4 975.73 L1415.4 982.39 L1416.4 989.03 L1417.4 995.65 L1418.4 1002.24 L1419.4 1008.8 L1420.4 1015.31 L1421.4 1021.76 L1422.4 1028.16 L1423.4 1034.48 L1424.4 1040.73 L1425.4 1046.89 L1426.4 1052.98 L1427.4 1059.04 L1428.4 1065.06 L1429.4 1071.02 L1430.4 1076.93 L1431.4 1082.76 L1432.4 1088.52 L1433.4 1094.19 L1434.4 1099.76 L1435.4 1105.22 L1436.4 1110.57 L1437.4 1115.82 L1438.4 1120.99 L1439.4 1126.08 L1440.4 1131.1 L1441.4 1136.03 L1442.4 1140.89 L1443.4 1145.68 L1444.4 1150.38 L1445.4 1155 L1446.4 1159.54 L1447.4 1164 L1448.4 1168.4 L1449.4 1172.74 L1450.4 1177.03 L1451.4 1181.26 L1452.4 1185.43 L1453.4 1189.52 L1454.4 1193.53 L1455.4 1197.47 L1456.4 1201.31 L1457.4 1205.07 L1458.4 1208.72 L1459.4 1212.28 L1460.4 1215.76 L1461.4 1219.16 L1462.4 1222.49 L1463.4 1225.76 L1464.4 1228.96 L1465.4 1232.09 L1466.4 1235.18 L1467.4 1238.21 L1468.4 1241.19 L1469.4 1244.13 L1470.4 1247.03 L1471.4 1249.94 L1472.4 1252.82 L1473.4 1255.67 L1474.4 1258.46 L1475.4 1261.19 L1476.4 1263.85 L1477.4 1266.4 L1478.4 1268.85 L1479.4 1271.16 L1480.4 1273.34 L1481.4 1275.41 L1482.4 1277.41 L1483.4 1279.33 L1484.4 1281.18 L1485.4 1282.97 L1486.4 1284.72 L1487.4 1286.42 L1488.4 1288.08 L1489.4 1289.71 L1490.4 1291.32 L1491.4 1292.92 L1492.4 1294.51 L1493.4 1296.08 L1494.4 1297.62 L1495.4 1299.14 L1496.4 1300.63 L1497.4 1302.09 L1498.4 1303.53 L1499.4 1304.93 L1500.4 1306.29 L1501.4 1307.62 L1502.4 1308.92 L1503.4 1310.17 L1504.4 1311.39 L1505.4 1312.58 L1506.4 1313.74 L1507.4 1314.87 L1508.4 1315.98 L1509.4 1317.06 L1510.4 1318.12 L1511.4 1319.17 L1512.4 1320.19 L1513.4 1321.2 L1514.4 1322.2 L1515.4 1323.19 L1516.4 1324.18 L1517.4 1325.17 L1518.4 1326.13 L1519.4 1327.08 L1520.4 1328 L1521.4 1328.89 L1522.4 1329.75 L1523.4 1330.56 L1524.4 1331.33 L1525.4 1332.06 L1526.4 1332.74 L1527.4 1333.4 L1528.4 1334.02 L1529.4 1334.63 L1530.4 1335.22 L1531.4 1335.78 L1532.4 1336.34 L1533.4 1336.89 L1534.4 1337.44 L1535.4 1337.98 L1536.4 1338.53 L1537.4 1339.08 L1538.4 1339.63 L1539.4 1340.18 L1540.4 1340.73 L1541.4 1341.26 L1542.4 1341.77 L1543.4 1342.27 L1544.4 1342.74 L1545.4 1343.18 L1546.4 1343.58 L1547.4 1343.96 L1548.4 1344.32 L1549.4 1344.67 L1550.4 1345 L1551.4 1345.32 L1552.4 1345.62 L1553.4 1345.91 L1554.4 1346.19 L1555.4 1346.46 L1556.4 1346.71 L1557.4 1346.95 L1558.4 1347.18 L1559.4 1347.4 L1560.4 1347.61 L1561.4 1347.8 L1562.4 1347.99 L1563.4 1348.18 L1564.4 1348.36 L1565.4 1348.53 L1566.4 1348.71 L1567.4 1348.88 L1568.4 1349.06 L1569.4 1349.25 L1570.4 1349.43 L1571.4 1349.61 L1572.4 1349.79 L1573.4 1349.97 L1574.4 1350.15 L1575.4 1350.33 L1576.4 1350.5 L1577.4 1350.66 L1578.4 1350.83 L1579.4 1350.98 L1580.4 1351.14 L1581.4 1351.28 L1582.4 1351.43 L1583.4 1351.57 L1584.4 1351.71 L1585.4 1351.84 L1586.4 1351.98 L1587.4 1352.11 L1588.4 1352.24 L1589.4 1352.37 L1590.4 1352.5 L1591.4 1352.63 L1592.4 1352.75 L1593.4 1352.88 L1594.4 1353 L1595.4 1353.12 L1596.4 1353.24 L1597.4 1353.37 L1598.4 1353.49 L1599.4 1353.61 L1600.4 1353.73 L1601.4 1353.85 L1602.4 1353.97 L1603.4 1354.09 L1604.4 1354.21 L1605.4 1354.33 L1606.4 1354.45 L1607.4 1354.57 L1608.4 1354.69 L1609.4 1354.81 L1610.4 1354.93 L1611.4 1355.05 L1612.4 1355.17 L1613.4 1355.3 L1614.4 1355.42 L1615.4 1355.55 L1616.4 1355.68 L1617.4 1355.82 L1618.4 1355.96 L1619.4 1356.11 L1620.4 1356.25 L1621.4 1356.4 L1622.4 1356.54 L1623.4 1356.68 L1624.4 1356.82 L1625.4 1356.96 L1626.4 1357.09 L1627.4 1357.22 L1628.4 1357.33 L1629.4 1357.44 L1630.4 1357.54 L1631.4 1357.64 L1632.4 1357.74 L1633.4 1357.83 L1634.4 1357.93 L1635.4 1358.03 L1636.4 1358.12 L1637.4 1358.22 L1638.4 1358.31 L1639.4 1358.39 L1640.4 1358.48 L1641.4 1358.56 L1642.4 1358.63 L1643.4 1358.7 L1644.4 1358.77 L1645.4 1358.82 L1646.4 1358.88 L1647.4 1358.92 L1648.4 1358.96 L1649.4 1358.99 L1650.4 1359.01 L1651.4 1359.03 L1652.4 1359.05 L1653.4 1359.06 L1654.4 1359.08 L1655.4 1359.1 L1656.4 1359.12 L1657.4 1359.13 L1658.4 1359.15 L1659.4 1359.17 L1660.4 1359.18 L1661.4 1359.2 L1662.4 1359.21 L1663.4 1359.22 L1664.4 1359.24 L1665.4 1359.25 L1666.4 1359.26 L1667.4 1359.28 L1668.4 1359.29 L1669.4 1359.3 L1670.4 1359.31 L1671.4 1359.32 L1672.4 1359.33 L1673.4 1359.34 L1674.4 1359.35 L1675.4 1359.36 L1676.4 1359.37 L1677.4 1359.38 L1678.4 1359.39 L1679.4 1359.4 L1680.4 1359.4 L1681.4 1359.41 L1682.4 1359.42 L1683.4 1359.43 L1684.4 1359.43 L1685.4 1359.44 L1686.4 1359.44 L1687.4 1359.45 L1688.4 1359.46 L1689.4 1359.46 L1690.4 1359.47 L1691.4 1359.47 L1692.4 1359.47 L1693.4 1359.48 L1694.4 1359.48 L1695.4 1359.49 L1696.4 1359.49 L1697.4 1359.49 L1698.4 1359.5 L1699.4 1359.5 L1700.4 1359.5 L1701.4 1359.5 L1702.4 1359.51 L1703.4 1359.51 L1704.4 1359.51 L1705.4 1359.51 L1706.4 1359.52 L1707.4 1359.52 L1708.4 1359.52 L1709.4 1359.52 L1710.4 1359.52 L1711.4 1359.53 L1712.4 1359.53 L1713.4 1359.53 L1714.4 1359.53 L1715.4 1359.53 L1716.4 1359.54 L1717.4 1359.54 L1718.4 1359.54 L1719.4 1359.54 L1720.4 1359.54 L1721.4 1359.55 L1722.4 1359.55 L1723.4 1359.55 L1724.4 1359.55 L1725.4 1359.55 L1726.4 1359.56 L1727.4 1359.56 L1728.4 1359.56 L1729.4 1359.56 L1730.4 1359.56 L1731.4 1359.56 L1732.4 1359.56 L1733.4 1359.57 L1734.4 1359.57 L1735.4 1359.57 L1736.4 1359.57 L1737.4 1359.57 L1738.4 1359.57 L1739.4 1359.57 L1740.4 1359.58 L1741.4 1359.58 L1742.4 1359.58 L1743.4 1359.58 L1744.4 1359.58 L1745.4 1359.58 L1746.4 1359.58 L1747.4 1359.58 L1748.4 1359.59 L1749.4 1359.59 L1750.4 1359.59 L1751.4 1359.59 L1752.4 1359.59 L1753.4 1359.59 L1754.4 1359.59 L1755.4 1359.59 L1756.4 1359.59 L1757.4 1359.59 L1758.4 1359.59 L1759.4 1359.59 L1760.4 1359.6 L1761.4 1359.6 L1762.4 1359.6 L1763.4 1359.6 L1764.4 1359.6 L1765.4 1359.6 L1766.4 1359.6 L1767.4 1359.6 L1768.4 1359.6 L1769.4 1359.6 L1770.4 1359.6 L1771.4 1359.6 L1772.4 1359.6 L1773.4 1359.6 L1774.4 1359.6 L1775.4 1359.6 L1776.4 1359.6" fill="none" stroke="#505050" stroke-width="4.2" stroke-linejoin="round"/>
<rect x="1026.24" y="1352.15" width="12.3" height="12.3" fill="#505050"/>
<rect x="1037.51" y="1352.13" width="12.3" height="12.3" fill="#505050"/>
<rect x="1048.78" y="1352.08" width="12.3" height="12.3" fill="#505050"/>
<rect x="1060.05" y="1352" width="12.3" height="12.3" fill="#505050"/>
<rect x="1071.32" y="1351.83" width="12.3" height="12.3" fill="#505050"/>
<rect x="1082.59" y="1351.46" width="12.3" height="12.3" fill="#505050"/>
<rect x="1093.86" y="1350.35" width="12.3" height="12.3" fill="#505050"/>
<rect x="1105.13" y="1348.9" width="12.3" height="12.3" fill="#505050"/>
<rect x="1116.4" y="1347.01" width="12.3" height="12.3" fill="#505050"/>
<rect x="1127.67" y="1345.43" width="12.3" height="12.3" fill="#505050"/>
<rect x="1138.94" y="1344.51" width="12.3" height="12.3" fill="#505050"/>
<rect x="1150.21" y="1344.77" width="12.3" height="12.3" fill="#505050"/>
<rect x="1161.48" y="1345.7" width="12.3" height="12.3" fill="#505050"/>
<rect x="1172.75" y="1347.14" width="12.3" height="12.3" fill="#505050"/>
<rect x="1184.02" y="1348.03" width="12.3" height="12.3" fill="#505050"/>
<rect x="1195.29" y="1348.74" width="12.3" height="12.3" fill="#505050"/>
<rect x="1206.56" y="1349.56" width="12.3" height="12.3" fill="#505050"/>
<rect x="1217.83" y="1350.05" width="12.3" height="12.3" fill="#505050"/>
<rect x="1229.1" y="1349.98" width="12.3" height="12.3" fill="#505050"/>
<rect x="1240.37" y="1349.75" width="12.3" height="12.3" fill="#505050"/>
<rect x="1251.64" y="1349.11" width="12.3" height="12.3" fill="#505050"/>
<rect x="1262.91" y="1347.51" width="12.3" height="12.3" fill="#505050"/>
<rect x="1274.18" y="1343.9" width="12.3" height="12.3" fill="#505050"/>
<rect x="1285.45" y="1336.19" width="12.3" height="12.3" fill="#505050"/>
<rect x="1297.75" y="1319.35" width="12.3" height="12.3" fill="#505050"/>
<rect x="1308.65" y="1287.25" width="12.3" height="12.3" fill="#505050"/>
<rect x="1320.05" y="1233.85" width="12.3" height="12.3" fill="#505050"/>
<rect x="1330.95" y="1150.45" width="12.3" height="12.3" fill="#505050"/>
<rect x="1341.85" y="1040.85" width="12.3" height="12.3" fill="#505050"/>
<rect x="1353.05" y="925.25" width="12.3" height="12.3" fill="#505050"/>
<rect x="1363.75" y="842.15" width="12.3" height="12.3" fill="#505050"/>
<rect x="1375.05" y="809.15" width="12.3" height="12.3" fill="#505050"/>
<rect x="1386.25" y="836.95" width="12.3" height="12.3" fill="#505050"/>
<rect x="1397.65" y="896.85" width="12.3" height="12.3" fill="#505050"/>
<rect x="1408.35" y="970.25" width="12.3" height="12.3" fill="#505050"/>
<rect x="1419.35" y="1041.35" width="12.3" height="12.3" fill="#505050"/>
<rect x="1430.35" y="1104.95" width="12.3" height="12.3" fill="#505050"/>
<rect x="1441.25" y="1157.85" width="12.3" height="12.3" fill="#505050"/>
<rect x="1452.55" y="1203.65" width="12.3" height="12.3" fill="#505050"/>
<rect x="1463.55" y="1238.85" width="12.3" height="12.3" fill="#505050"/>
<rect x="1473.95" y="1266.55" width="12.3" height="12.3" fill="#505050"/>
<rect x="1485.55" y="1287.25" width="12.3" height="12.3" fill="#505050"/>
<rect x="1496.95" y="1303.65" width="12.3" height="12.3" fill="#505050"/>
<rect x="1507.85" y="1315.65" width="12.3" height="12.3" fill="#505050"/>
<rect x="1518.75" y="1325.55" width="12.3" height="12.3" fill="#505050"/>
<rect x="1529.65" y="1332.05" width="12.3" height="12.3" fill="#505050"/>
<rect x="1540.55" y="1337.55" width="12.3" height="12.3" fill="#505050"/>
<rect x="1551.45" y="1340.85" width="12.3" height="12.3" fill="#505050"/>
<rect x="1562.45" y="1342.95" width="12.3" height="12.3" fill="#505050"/>
<rect x="1573.35" y="1344.85" width="12.3" height="12.3" fill="#505050"/>
<rect x="1584.25" y="1346.35" width="12.3" height="12.3" fill="#505050"/>
<rect x="1595.2" y="1347.69" width="12.3" height="12.3" fill="#505050"/>
<rect x="1606.15" y="1349.01" width="12.3" height="12.3" fill="#505050"/>
<rect x="1617.1" y="1350.51" width="12.3" height="12.3" fill="#505050"/>
<rect x="1628.05" y="1351.76" width="12.3" height="12.3" fill="#505050"/>
<rect x="1639" y="1352.66" width="12.3" height="12.3" fill="#505050"/>
<rect x="1649.95" y="1352.96" width="12.3" height="12.3" fill="#505050"/>
<rect x="1660.9" y="1353.12" width="12.3" height="12.3" fill="#505050"/>
<rect x="1671.85" y="1353.24" width="12.3" height="12.3" fill="#505050"/>
<rect x="1682.8" y="1353.31" width="12.3" height="12.3" fill="#505050"/>
<rect x="1693.75" y="1353.35" width="12.3" height="12.3" fill="#505050"/>
<rect x="1704.7" y="1353.37" width="12.3" height="12.3" fill="#505050"/>
<rect x="1715.65" y="1353.4" width="12.3" height="12.3" fill="#505050"/>
<rect x="1726.6" y="1353.42" width="12.3" height="12.3" fill="#505050"/>
<rect x="1737.55" y="1353.43" width="12.3" height="12.3" fill="#505050"/>
<rect x="1748.5" y="1353.44" width="12.3" height="12.3" fill="#505050"/>
<rect x="1759.45" y="1353.45" width="12.3" height="12.3" fill="#505050"/>
<rect x="1770.4" y="1353.45" width="12.3" height="12.3" fill="#505050"/>
<path d="M1034.4 1359 L1035.4 1359 L1036.4 1359 L1037.4 1359 L1038.4 1359 L1039.4 1359 L1040.4 1359 L1041.4 1359 L1042.4 1359 L1043.4 1359 L1044.4 1359 L1045.4 1359 L1046.4 1359 L1047.4 1359 L1048.4 1359 L1049.4 1359 L1050.4 1359 L1051.4 1359 L1052.4 1359 L1053.4 1359 L1054.4 1359 L1055.4 1359 L1056.4 1359 L1057.4 1359 L1058.4 1359 L1059.4 1359 L1060.4 1359 L1061.4 1359 L1062.4 1359 L1063.4 1359 L1064.4 1359 L1065.4 1359 L1066.4 1359 L1067.4 1359 L1068.4 1359 L1069.4 1359 L1070.4 1359 L1071.4 1359 L1072.4 1359 L1073.4 1359 L1074.4 1359 L1075.4 1359 L1076.4 1359 L1077.4 1359 L1078.4 1359 L1079.4 1359 L1080.4 1359 L1081.4 1359 L1082.4 1359 L1083.4 1359 L1084.4 1359 L1085.4 1359 L1086.4 1359 L1087.4 1359 L1088.4 1359 L1089.4 1359 L1090.4 1359 L1091.4 1359 L1092.4 1359 L1093.4 1359 L1094.4 1359 L1095.4 1359 L1096.4 1359 L1097.4 1359 L1098.4 1359 L1099.4 1359 L1100.4 1359 L1101.4 1359 L1102.4 1359 L1103.4 1359 L1104.4 1359 L1105.4 1359 L1106.4 1359 L1107.4 1359 L1108.4 1359 L1109.4 1359 L1110.4 1359 L1111.4 1359 L1112.4 1359 L1113.4 1359 L1114.4 1359 L1115.4 1359 L1116.4 1359 L1117.4 1359 L1118.4 1359 L1119.4 1359 L1120.4 1359 L1121.4 1359 L1122.4 1359 L1123.4 1359 L1124.4 1359 L1125.4 1359 L1126.4 1359 L1127.4 1359 L1128.4 1359 L1129.4 1359 L1130.4 1359 L1131.4 1359 L1132.4 1359 L1133.4 1359 L1134.4 1359 L1135.4 1359 L1136.4 1359 L1137.4 1359 L1138.4 1359 L1139.4 1359 L1140.4 1359 L1141.4 1359 L1142.4 1359 L1143.4 1359 L1144.4 1359 L1145.4 1359 L1146.4 1359 L1147.4 1359 L1148.4 1359 L1149.4 1359 L1150.4 1359 L1151.4 1359 L1152.4 1359 L1153.4 1359 L1154.4 1359 L1155.4 1359 L1156.4 1359 L1157.4 1359 L1158.4 1359 L1159.4 1359 L1160.4 1359 L1161.4 1359 L1162.4 1359 L1163.4 1359 L1164.4 1359 L1165.4 1359 L1166.4 1359 L1167.4 1359 L1168.4 1359 L1169.4 1359 L1170.4 1359 L1171.4 1359 L1172.4 1359 L1173.4 1359 L1174.4 1359 L1175.4 1359 L1176.4 1359 L1177.4 1359 L1178.4 1359 L1179.4 1359 L1180.4 1359 L1181.4 1359 L1182.4 1359 L1183.4 1359 L1184.4 1359 L1185.4 1359 L1186.4 1359 L1187.4 1359 L1188.4 1359 L1189.4 1359 L1190.4 1359 L1191.4 1359 L1192.4 1359 L1193.4 1359 L1194.4 1359 L1195.4 1359 L1196.4 1359 L1197.4 1359 L1198.4 1359 L1199.4 1359 L1200.4 1359 L1201.4 1359 L1202.4 1359 L1203.4 1359 L1204.4 1359 L1205.4 1359 L1206.4 1359 L1207.4 1359 L1208.4 1359 L1209.4 1359 L1210.4 1358.99 L1211.4 1358.99 L1212.4 1358.99 L1213.4 1358.99 L1214.4 1358.99 L1215.4 1358.99 L1216.4 1358.99 L1217.4 1358.99 L1218.4 1358.98 L1219.4 1358.98 L1220.4 1358.98 L1221.4 1358.98 L1222.4 1358.98 L1223.4 1358.97 L1224.4 1358.97 L1225.4 1358.97 L1226.4 1358.97 L1227.4 1358.96 L1228.4 1358.96 L1229.4 1358.96 L1230.4 1358.95 L1231.4 1358.95 L1232.4 1358.95 L1233.4 1358.94 L1234.4 1358.94 L1235.4 1358.94 L1236.4 1358.93 L1237.4 1358.93 L1238.4 1358.92 L1239.4 1358.92 L1240.4 1358.91 L1241.4 1358.91 L1242.4 1358.91 L1243.4 1358.9 L1244.4 1358.9 L1245.4 1358.89 L1246.4 1358.89 L1247.4 1358.88 L1248.4 1358.87 L1249.4 1358.87 L1250.4 1358.86 L1251.4 1358.86 L1252.4 1358.85 L1253.4 1358.84 L1254.4 1358.84 L1255.4 1358.83 L1256.4 1358.83 L1257.4 1358.82 L1258.4 1358.81 L1259.4 1358.8 L1260.4 1358.8 L1261.4 1358.78 L1262.4 1358.77 L1263.4 1358.74 L1264.4 1358.72 L1265.4 1358.68 L1266.4 1358.65 L1267.4 1358.6 L1268.4 1358.56 L1269.4 1358.51 L1270.4 1358.45 L1271.4 1358.39 L1272.4 1358.33 L1273.4 1358.27 L1274.4 1358.2 L1275.4 1358.13 L1276.4 1358.06 L1277.4 1357.98 L1278.4 1357.9 L1279.4 1357.82 L1280.4 1357.74 L1281.4 1357.65 L1282.4 1357.56 L1283.4 1357.46 L1284.4 1357.33 L1285.4 1357.19 L1286.4 1357.04 L1287.4 1356.87 L1288.4 1356.69 L1289.4 1356.5 L1290.4 1356.31 L1291.4 1356.12 L1292.4 1355.92 L1293.4 1355.72 L1294.4 1355.52 L1295.4 1355.3 L1296.4 1355.08 L1297.4 1354.85 L1298.4 1354.61 L1299.4 1354.36 L1300.4 1354.11 L1301.4 1353.84 L1302.4 1353.57 L1303.4 1353.29 L1304.4 1353 L1305.4 1352.71 L1306.4 1352.41 L1307.4 1352.1 L1308.4 1351.78 L1309.4 1351.45 L1310.4 1351.1 L1311.4 1350.74 L1312.4 1350.35 L1313.4 1349.95 L1314.4 1349.51 L1315.4 1349.05 L1316.4 1348.55 L1317.4 1348 L1318.4 1347.41 L1319.4 1346.78 L1320.4 1346.1 L1321.4 1345.39 L1322.4 1344.64 L1323.4 1343.86 L1324.4 1343.04 L1325.4 1342.2 L1326.4 1341.32 L1327.4 1340.4 L1328.4 1339.43 L1329.4 1338.4 L1330.4 1337.31 L1331.4 1336.16 L1332.4 1334.95 L1333.4 1333.68 L1334.4 1332.35 L1335.4 1330.94 L1336.4 1329.47 L1337.4 1327.93 L1338.4 1326.26 L1339.4 1324.46 L1340.4 1322.54 L1341.4 1320.49 L1342.4 1318.33 L1343.4 1316.06 L1344.4 1313.68 L1345.4 1311.22 L1346.4 1308.66 L1347.4 1306.02 L1348.4 1303.3 L1349.4 1300.41 L1350.4 1297.36 L1351.4 1294.15 L1352.4 1290.77 L1353.4 1287.25 L1354.4 1283.59 L1355.4 1279.79 L1356.4 1275.86 L1357.4 1271.81 L1358.4 1267.65 L1359.4 1263.37 L1360.4 1258.91 L1361.4 1254.26 L1362.4 1249.41 L1363.4 1244.38 L1364.4 1239.15 L1365.4 1233.74 L1366.4 1228.14 L1367.4 1222.36 L1368.4 1216.41 L1369.4 1210.27 L1370.4 1203.96 L1371.4 1197.33 L1372.4 1190.31 L1373.4 1182.95 L1374.4 1175.3 L1375.4 1167.39 L1376.4 1159.27 L1377.4 1150.99 L1378.4 1142.59 L1379.4 1134.11 L1380.4 1125.6 L1381.4 1117.1 L1382.4 1108.4 L1383.4 1099.45 L1384.4 1090.29 L1385.4 1080.97 L1386.4 1071.56 L1387.4 1062.1 L1388.4 1052.64 L1389.4 1043.23 L1390.4 1033.93 L1391.4 1024.79 L1392.4 1015.83 L1393.4 1006.85 L1394.4 997.83 L1395.4 988.81 L1396.4 979.83 L1397.4 970.91 L1398.4 962.11 L1399.4 953.47 L1400.4 945.01 L1401.4 936.77 L1402.4 928.81 L1403.4 921.15 L1404.4 913.54 L1405.4 905.87 L1406.4 898.22 L1407.4 890.68 L1408.4 883.33 L1409.4 876.26 L1410.4 869.57 L1411.4 863.32 L1412.4 857.62 L1413.4 852.55 L1414.4 848.17 L1415.4 843.98 L1416.4 839.77 L1417.4 835.63 L1418.4 831.65 L1419.4 827.92 L1420.4 824.52 L1421.4 821.54 L1422.4 819.07 L1423.4 817.2 L1424.4 816.02 L1425.4 815.6 L1426.4 815.77 L1427.4 816.27 L1428.4 817.05 L1429.4 818.1 L1430.4 819.38 L1431.4 820.85 L1432.4 822.49 L1433.4 824.27 L1434.4 826.15 L1435.4 828.1 L1436.4 830.1 L1437.4 832.43 L1438.4 835.37 L1439.4 838.83 L1440.4 842.74 L1441.4 847.02 L1442.4 851.59 L1443.4 856.38 L1444.4 861.31 L1445.4 866.3 L1446.4 871.28 L1447.4 876.17 L1448.4 881.22 L1449.4 886.51 L1450.4 892.02 L1451.4 897.72 L1452.4 903.57 L1453.4 909.54 L1454.4 915.59 L1455.4 921.7 L1456.4 927.83 L1457.4 933.94 L1458.4 940 L1459.4 946.08 L1460.4 952.29 L1461.4 958.61 L1462.4 965 L1463.4 971.42 L1464.4 977.86 L1465.4 984.27 L1466.4 990.62 L1467.4 996.89 L1468.4 1003.04 L1469.4 1009.03 L1470.4 1014.87 L1471.4 1020.61 L1472.4 1026.27 L1473.4 1031.85 L1474.4 1037.36 L1475.4 1042.82 L1476.4 1048.23 L1477.4 1053.62 L1478.4 1058.97 L1479.4 1064.32 L1480.4 1069.66 L1481.4 1075.01 L1482.4 1080.37 L1483.4 1085.74 L1484.4 1091.08 L1485.4 1096.41 L1486.4 1101.69 L1487.4 1106.93 L1488.4 1112.11 L1489.4 1117.21 L1490.4 1122.23 L1491.4 1127.15 L1492.4 1131.97 L1493.4 1136.76 L1494.4 1141.49 L1495.4 1146.18 L1496.4 1150.8 L1497.4 1155.36 L1498.4 1159.84 L1499.4 1164.24 L1500.4 1168.55 L1501.4 1172.77 L1502.4 1176.89 L1503.4 1180.92 L1504.4 1184.91 L1505.4 1188.84 L1506.4 1192.72 L1507.4 1196.52 L1508.4 1200.24 L1509.4 1203.88 L1510.4 1207.42 L1511.4 1210.86 L1512.4 1214.18 L1513.4 1217.39 L1514.4 1220.47 L1515.4 1223.46 L1516.4 1226.37 L1517.4 1229.19 L1518.4 1231.95 L1519.4 1234.64 L1520.4 1237.28 L1521.4 1239.87 L1522.4 1242.42 L1523.4 1244.95 L1524.4 1247.45 L1525.4 1249.94 L1526.4 1252.42 L1527.4 1254.86 L1528.4 1257.28 L1529.4 1259.67 L1530.4 1262.01 L1531.4 1264.31 L1532.4 1266.56 L1533.4 1268.76 L1534.4 1270.91 L1535.4 1272.99 L1536.4 1275 L1537.4 1276.98 L1538.4 1278.91 L1539.4 1280.81 L1540.4 1282.66 L1541.4 1284.47 L1542.4 1286.24 L1543.4 1287.98 L1544.4 1289.67 L1545.4 1291.32 L1546.4 1292.93 L1547.4 1294.5 L1548.4 1296.04 L1549.4 1297.54 L1550.4 1299.02 L1551.4 1300.46 L1552.4 1301.88 L1553.4 1303.26 L1554.4 1304.6 L1555.4 1305.92 L1556.4 1307.2 L1557.4 1308.45 L1558.4 1309.68 L1559.4 1310.88 L1560.4 1312.05 L1561.4 1313.21 L1562.4 1314.34 L1563.4 1315.44 L1564.4 1316.52 L1565.4 1317.56 L1566.4 1318.58 L1567.4 1319.56 L1568.4 1320.51 L1569.4 1321.44 L1570.4 1322.33 L1571.4 1323.21 L1572.4 1324.07 L1573.4 1324.9 L1574.4 1325.71 L1575.4 1326.5 L1576.4 1327.27 L1577.4 1328.01 L1578.4 1328.73 L1579.4 1329.43 L1580.4 1330.11 L1581.4 1330.76 L1582.4 1331.39 L1583.4 1332.01 L1584.4 1332.61 L1585.4 1333.19 L1586.4 1333.76 L1587.4 1334.33 L1588.4 1334.89 L1589.4 1335.45 L1590.4 1336 L1591.4 1336.56 L1592.4 1337.11 L1593.4 1337.67 L1594.4 1338.22 L1595.4 1338.76 L1596.4 1339.29 L1597.4 1339.8 L1598.4 1340.3 L1599.4 1340.78 L1600.4 1341.24 L1601.4 1341.67 L1602.4 1342.09 L1603.4 1342.49 L1604.4 1342.88 L1605.4 1343.26 L1606.4 1343.62 L1607.4 1343.98 L1608.4 1344.33 L1609.4 1344.66 L1610.4 1344.99 L1611.4 1345.31 L1612.4 1345.62 L1613.4 1345.92 L1614.4 1346.21 L1615.4 1346.49 L1616.4 1346.76 L1617.4 1347.02 L1618.4 1347.28 L1619.4 1347.54 L1620.4 1347.8 L1621.4 1348.07 L1622.4 1348.34 L1623.4 1348.61 L1624.4 1348.9 L1625.4 1349.21 L1626.4 1349.52 L1627.4 1349.83 L1628.4 1350.14 L1629.4 1350.44 L1630.4 1350.73 L1631.4 1351 L1632.4 1351.25 L1633.4 1351.48 L1634.4 1351.68 L1635.4 1351.86 L1636.4 1352.03 L1637.4 1352.2 L1638.4 1352.36 L1639.4 1352.51 L1640.4 1352.65 L1641.4 1352.78 L1642.4 1352.91 L1643.4 1353.02 L1644.4 1353.14 L1645.4 1353.24 L1646.4 1353.35 L1647.4 1353.45 L1648.4 1353.55 L1649.4 1353.65 L1650.4 1353.74 L1651.4 1353.83 L1652.4 1353.92 L1653.4 1354.01 L1654.4 1354.08 L1655.4 1354.16 L1656.4 1354.22 L1657.4 1354.28 L1658.4 1354.33 L1659.4 1354.38 L1660.4 1354.41 L1661.4 1354.45 L1662.4 1354.48 L1663.4 1354.51 L1664.4 1354.54 L1665.4 1354.58 L1666.4 1354.6 L1667.4 1354.63 L1668.4 1354.66 L1669.4 1354.69 L1670.4 1354.71 L1671.4 1354.74 L1672.4 1354.76 L1673.4 1354.79 L1674.4 1354.81 L1675.4 1354.83 L1676.4 1354.85 L1677.4 1354.87 L1678.4 1354.89 L1679.4 1354.91 L1680.4 1354.93 L1681.4 1354.95 L1682.4 1354.96 L1683.4 1354.98 L1684.4 1355 L1685.4 1355.01 L1686.4 1355.03 L1687.4 1355.04 L1688.4 1355.06 L1689.4 1355.07 L1690.4 1355.09 L1691.4 1355.1 L1692.4 1355.11 L1693.4 1355.12 L1694.4 1355.14 L1695.4 1355.15 L1696.4 1355.16 L1697.4 1355.17 L1698.4 1355.18 L1699.4 1355.19 L1700.4 1355.2 L1701.4 1355.22 L1702.4 1355.23 L1703.4 1355.24 L1704.4 1355.25 L1705.4 1355.26 L1706.4 1355.27 L1707.4 1355.28 L1708.4 1355.29 L1709.4 1355.3 L1710.4 1355.31 L1711.4 1355.32 L1712.4 1355.33 L1713.4 1355.34 L1714.4 1355.35 L1715.4 1355.36 L1716.4 1355.37 L1717.4 1355.38 L1718.4 1355.39 L1719.4 1355.4 L1720.4 1355.41 L1721.4 1355.42 L1722.4 1355.42 L1723.4 1355.43 L1724.4 1355.44 L1725.4 1355.45 L1726.4 1355.45 L1727.4 1355.46 L1728.4 1355.46 L1729.4 1355.47 L1730.4 1355.48 L1731.4 1355.48 L1732.4 1355.48 L1733.4 1355.49 L1734.4 1355.49 L1735.4 1355.49 L1736.4 1355.5 L1737.4 1355.5 L1738.4 1355.5 L1739.4 1355.5 L1740.4 1355.5 L1741.4 1355.48 L1742.4 1355.44 L1743.4 1355.38 L1744.4 1355.3 L1745.4 1355.22 L1746.4 1355.11 L1747.4 1355 L1748.4 1354.88 L1749.4 1354.75 L1750.4 1354.62 L1751.4 1354.48 L1752.4 1354.35 L1753.4 1354.21 L1754.4 1354.08 L1755.4 1353.94 L1756.4 1353.77 L1757.4 1353.57 L1758.4 1353.35 L1759.4 1353.13 L1760.4 1352.92 L1761.4 1352.74 L1762.4 1352.6 L1763.4 1352.51 L1764.4 1352.51 L1765.4 1352.63 L1766.4 1352.86 L1767.4 1353.15 L1768.4 1353.49 L1769.4 1353.83 L1770.4 1354.14 L1771.4 1354.39 L1772.4 1354.56 L1773.4 1354.7 L1774.4 1354.82 L1775.4 1354.92 L1776.4 1354.99" fill="none" stroke="#ef3b3f" stroke-width="4" stroke-linejoin="round"/>
<circle cx="1033.92" cy="1359" r="7" fill="#ef3b3f"/>
<circle cx="1045.19" cy="1359" r="7" fill="#ef3b3f"/>
<circle cx="1056.46" cy="1359" r="7" fill="#ef3b3f"/>
<circle cx="1067.73" cy="1359" r="7" fill="#ef3b3f"/>
<circle cx="1079" cy="1359" r="7" fill="#ef3b3f"/>
<circle cx="1090.27" cy="1359" r="7" fill="#ef3b3f"/>
<circle cx="1101.54" cy="1359" r="7" fill="#ef3b3f"/>
<circle cx="1112.81" cy="1359" r="7" fill="#ef3b3f"/>
<circle cx="1124.08" cy="1359" r="7" fill="#ef3b3f"/>
<circle cx="1135.35" cy="1359" r="7" fill="#ef3b3f"/>
<circle cx="1146.62" cy="1359" r="7" fill="#ef3b3f"/>
<circle cx="1157.89" cy="1359" r="7" fill="#ef3b3f"/>
<circle cx="1169.16" cy="1359" r="7" fill="#ef3b3f"/>
<circle cx="1180.43" cy="1359" r="7" fill="#ef3b3f"/>
<circle cx="1191.7" cy="1359" r="7" fill="#ef3b3f"/>
<circle cx="1202.97" cy="1359" r="7" fill="#ef3b3f"/>
<circle cx="1214.24" cy="1358.99" r="7" fill="#ef3b3f"/>
<circle cx="1225.51" cy="1358.97" r="7" fill="#ef3b3f"/>
<circle cx="1236.78" cy="1358.93" r="7" fill="#ef3b3f"/>
<circle cx="1248.05" cy="1358.88" r="7" fill="#ef3b3f"/>
<circle cx="1259.32" cy="1358.8" r="7" fill="#ef3b3f"/>
<circle cx="1270.59" cy="1358.44" r="7" fill="#ef3b3f"/>
<circle cx="1281.86" cy="1357.61" r="7" fill="#ef3b3f"/>
<circle cx="1293.13" cy="1355.77" r="7" fill="#ef3b3f"/>
<circle cx="1304.4" cy="1353" r="7" fill="#ef3b3f"/>
<circle cx="1315.3" cy="1349.1" r="7" fill="#ef3b3f"/>
<circle cx="1326.2" cy="1341.5" r="7" fill="#ef3b3f"/>
<circle cx="1337.1" cy="1328.4" r="7" fill="#ef3b3f"/>
<circle cx="1348" cy="1304.4" r="7" fill="#ef3b3f"/>
<circle cx="1359" cy="1265.1" r="7" fill="#ef3b3f"/>
<circle cx="1370.3" cy="1204.6" r="7" fill="#ef3b3f"/>
<circle cx="1381.2" cy="1118.8" r="7" fill="#ef3b3f"/>
<circle cx="1392" cy="1019.4" r="7" fill="#ef3b3f"/>
<circle cx="1403.3" cy="921.9" r="7" fill="#ef3b3f"/>
<circle cx="1414.2" cy="849" r="7" fill="#ef3b3f"/>
<circle cx="1425.4" cy="815.6" r="7" fill="#ef3b3f"/>
<circle cx="1436.4" cy="830.1" r="7" fill="#ef3b3f"/>
<circle cx="1447.2" cy="875.2" r="7" fill="#ef3b3f"/>
<circle cx="1458.5" cy="940.6" r="7" fill="#ef3b3f"/>
<circle cx="1469.7" cy="1010.8" r="7" fill="#ef3b3f"/>
<circle cx="1480.8" cy="1071.8" r="7" fill="#ef3b3f"/>
<circle cx="1491.7" cy="1128.6" r="7" fill="#ef3b3f"/>
<circle cx="1502.6" cy="1177.7" r="7" fill="#ef3b3f"/>
<circle cx="1513.5" cy="1217.7" r="7" fill="#ef3b3f"/>
<circle cx="1524.9" cy="1248.7" r="7" fill="#ef3b3f"/>
<circle cx="1535.8" cy="1273.8" r="7" fill="#ef3b3f"/>
<circle cx="1546.7" cy="1293.4" r="7" fill="#ef3b3f"/>
<circle cx="1557.6" cy="1308.7" r="7" fill="#ef3b3f"/>
<circle cx="1568.6" cy="1320.7" r="7" fill="#ef3b3f"/>
<circle cx="1579.5" cy="1329.5" r="7" fill="#ef3b3f"/>
<circle cx="1590.4" cy="1336" r="7" fill="#ef3b3f"/>
<circle cx="1601.35" cy="1341.65" r="7" fill="#ef3b3f"/>
<circle cx="1612.3" cy="1345.59" r="7" fill="#ef3b3f"/>
<circle cx="1623.25" cy="1348.57" r="7" fill="#ef3b3f"/>
<circle cx="1634.2" cy="1351.64" r="7" fill="#ef3b3f"/>
<circle cx="1645.15" cy="1353.22" r="7" fill="#ef3b3f"/>
<circle cx="1656.1" cy="1354.2" r="7" fill="#ef3b3f"/>
<circle cx="1667.05" cy="1354.62" r="7" fill="#ef3b3f"/>
<circle cx="1678" cy="1354.88" r="7" fill="#ef3b3f"/>
<circle cx="1688.95" cy="1355.07" r="7" fill="#ef3b3f"/>
<circle cx="1699.9" cy="1355.2" r="7" fill="#ef3b3f"/>
<circle cx="1710.85" cy="1355.32" r="7" fill="#ef3b3f"/>
<circle cx="1721.8" cy="1355.42" r="7" fill="#ef3b3f"/>
<circle cx="1732.75" cy="1355.49" r="7" fill="#ef3b3f"/>
<circle cx="1743.7" cy="1355.36" r="7" fill="#ef3b3f"/>
<circle cx="1754.65" cy="1354.05" r="7" fill="#ef3b3f"/>
<circle cx="1765.6" cy="1352.67" r="7" fill="#ef3b3f"/>
<circle cx="1776.55" cy="1355" r="7" fill="#ef3b3f"/>
</g>
<path d="M1034.4 1359.6H1776.5" stroke="#000" stroke-width="2.2"/>
<rect x="1474.4" y="806.9" width="291.9" height="86.7" fill="#000"/>
<rect x="1464.9" y="798.1" width="291.9" height="86.7" fill="#fff" stroke="#222" stroke-width="1.3"/>
<path d="M1468.5 818.4H1540.5" stroke="#505050" stroke-width="3.6"/>
<rect x="1498.8" y="812.2" width="12.4" height="12.4" fill="#505050"/>
<path d="M1468.5 857.1H1540.5" stroke="#ef3b3f" stroke-width="3.6"/>
<circle cx="1504.9" cy="857.1" r="7" fill="#ef3b3f"/>
<text transform="translate(1547 828.6) scale(1 1.03)" font-size="31" text-anchor="start">GaN on PSS</text>
<text transform="translate(1547 867) scale(1 1.03)" font-size="31" text-anchor="start">GaN on Ga<tspan font-size="20.7" dy="8">2</tspan><tspan dy="-8">O</tspan><tspan font-size="20.7" dy="8">3</tspan></text>
<path d="M1343.6 1065.3L1258.5 1080.5M1279.3 1063.6L1257.5 1080.8L1284.3 1089.2" stroke="#000" stroke-width="7" fill="none" stroke-linecap="round" stroke-linejoin="round"/>
<path d="M1482 1054.5L1578.5 1063.5M1554.9 1048.9L1580 1063.8L1552.1 1074.1" stroke="#ff0000" stroke-width="7.5" fill="none" stroke-linecap="round" stroke-linejoin="round"/>
</svg>
</body></html>
